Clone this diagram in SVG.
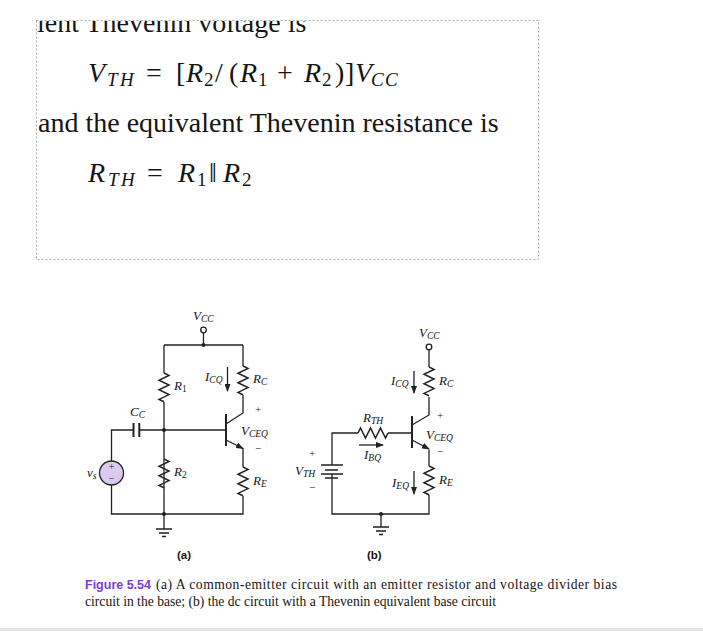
<svg xmlns="http://www.w3.org/2000/svg" width="703" height="631" viewBox="0 0 703 631">
<style>
text{font-family:"Liberation Serif","Times New Roman",serif;fill:#151515}
.big{font-size:28px}
.i{font-style:italic}
.sub{font-size:19px}
.lab{font-size:13px;font-style:italic}
.ls{font-size:9.5px;font-style:italic}
.w{fill:none;stroke:#222;stroke-width:1.3}
.z{fill:none;stroke:#222;stroke-width:1.5;stroke-linejoin:miter}
.dot{fill:#222}
.frame{fill:none;stroke:#aaa;stroke-width:1;stroke-dasharray:2 2}
.sans{font-family:"Liberation Sans",Arial,sans-serif;font-size:11.5px;font-weight:bold}
.cap{font-size:13.6px}
</style>
<defs>
<clipPath id="topclip"><rect x="30" y="21" width="520" height="30"/></clipPath>
<marker id="arr" markerWidth="8" markerHeight="6" refX="7" refY="3" orient="auto" markerUnits="userSpaceOnUse"><path d="M0 0L8 3L0 6z" fill="#222"/></marker>
<path id="rv" class="z" d="M0 0L5 2.4L-5 7.2L5 12L-5 16.800L5 21.600L-5 26.400L0 28.800"/>
</defs>
<rect width="703" height="631" fill="#fff"/>
<g id="text-box">
<rect class="frame" x="36.500" y="20.500" width="502" height="239"/>
<text class="big" x="37" y="32" clip-path="url(#topclip)">lent Thevenin voltage is</text>
<text class="big" y="82"><tspan class="i" x="88">V</tspan><tspan class="i sub" x="107" y="86">T</tspan><tspan class="i sub" x="120" y="86">H</tspan><tspan x="146" y="82">=</tspan><tspan x="176">[</tspan><tspan class="i" x="186">R</tspan><tspan class="sub" x="204" y="86">2</tspan><tspan x="215" y="82">/</tspan><tspan x="229">(</tspan><tspan class="i" x="240">R</tspan><tspan class="sub" x="258" y="86">1</tspan><tspan x="277" y="82">+</tspan><tspan class="i" x="304">R</tspan><tspan class="sub" x="322" y="86">2</tspan><tspan x="335" y="82">)</tspan><tspan x="345">]</tspan><tspan class="i" x="355">V</tspan><tspan class="i sub" x="371" y="86">C</tspan><tspan class="i sub" x="385" y="86">C</tspan></text>
<text class="big" x="38" y="132">and the equivalent Thevenin resistance is</text>
<text class="big" y="182"><tspan class="i" x="88">R</tspan><tspan class="i sub" x="108" y="186">T</tspan><tspan class="i sub" x="121" y="186">H</tspan><tspan x="147" y="182">=</tspan><tspan class="i" x="178">R</tspan><tspan class="sub" x="197" y="186">1</tspan><tspan x="209" y="182">‖</tspan><tspan class="i" x="223">R</tspan><tspan class="sub" x="242" y="186">2</tspan></text>
</g>
<g id="connectors">
<path class="w" d="M203.500 333V345M164 345H243M164 345V373M164 402V514M243 345V366M243 395V413L226 424M226 430H139.500M133.500 430H111.500V461M111.500 485V514H243V496M243 467V448M164 514V529"/>
<path class="w" d="M226 440L243 448.500" marker-end="url(#arr)"/>
<path class="w" d="M429 350V367M429 397V415L412 425M412 433H388M358 433H332V465M332 474V514H429V495M429 466V450M381 514V527"/>
<path class="w" d="M412 440L429 449" marker-end="url(#arr)"/>
<path class="w" d="M227.500 367V391" marker-end="url(#arr)"/>
<path class="w" d="M414 371V393" marker-end="url(#arr)"/>
<path class="w" d="M414 471V494" marker-end="url(#arr)"/>
<path class="w" d="M359 445H383" marker-end="url(#arr)"/>
</g>
<g id="vcc-a"><circle class="w" cx="203.500" cy="330" r="2.800" fill="#fff"/><circle class="dot" cx="203.500" cy="345" r="2"/><text class="lab" x="193" y="320">V<tspan class="ls" dy="2">CC</tspan></text></g>
<g id="r1"><use href="#rv" x="164" y="373"/><text class="lab" x="174" y="390">R<tspan font-size="9.500" font-style="normal" dy="2">1</tspan></text></g>
<g id="rc-a"><use href="#rv" x="243" y="366"/><text class="lab" x="253" y="383">R<tspan class="ls" dy="2">C</tspan></text></g>
<g id="icq-a"><text class="lab" x="205" y="381">I<tspan class="ls" dy="2">CQ</tspan></text></g>
<g id="cc"><path d="M133.500 423V437M139.300 423V437" fill="none" stroke="#222" stroke-width="2"/><text class="lab" x="130" y="416">C<tspan class="ls" dy="2">C</tspan></text></g>
<g id="node-base"><circle class="dot" cx="164" cy="430" r="2"/></g>
<g id="q-a"><path d="M226 414V446" fill="none" stroke="#222" stroke-width="2"/><text x="255" y="413" font-size="11">+</text><text class="lab" x="241" y="435">V<tspan class="ls" dy="2">CEQ</tspan></text><text x="255" y="452" font-size="11">−</text></g>
<g id="r2"><use href="#rv" x="164" y="459"/><text class="lab" x="174" y="476">R<tspan font-size="9.500" font-style="normal" dy="2">2</tspan></text></g>
<g id="re-a"><use href="#rv" x="243" y="467"/><text class="lab" x="253" y="485">R<tspan class="ls" dy="2">E</tspan></text></g>
<g id="vs"><circle cx="111.500" cy="473" r="12" fill="#dcc9ef" stroke="#222" stroke-width="1.300"/><text x="111.500" y="470" font-size="10" text-anchor="middle">+</text><text x="111.500" y="482" font-size="10" text-anchor="middle">−</text><text class="lab" x="87" y="477">v<tspan class="ls" dy="2">s</tspan></text></g>
<g id="gnd-a"><circle class="dot" cx="164" cy="514" r="2"/><path class="w" d="M156 529H172M159 533H169M162 536.500H166"/></g>
<g id="vcc-b"><circle class="w" cx="429" cy="347" r="2.800" fill="#fff"/><text class="lab" x="419" y="337">V<tspan class="ls" dy="2">CC</tspan></text></g>
<g id="rc-b"><use href="#rv" x="429" y="367"/><text class="lab" x="439" y="385">R<tspan class="ls" dy="2">C</tspan></text></g>
<g id="icq-b"><text class="lab" x="391" y="385">I<tspan class="ls" dy="2">CQ</tspan></text></g>
<g id="rth"><path class="z" d="M358 433L360.500 428L365.500 438L370.500 428L375.500 438L380.500 428L385.500 438L388 433"/><text class="lab" x="363" y="422">R<tspan class="ls" dy="2">TH</tspan></text><text class="lab" x="364" y="459">I<tspan class="ls" dy="2">BQ</tspan></text></g>
<g id="q-b"><path d="M412 416V448" fill="none" stroke="#222" stroke-width="2"/><text x="437" y="419" font-size="11">+</text><text class="lab" x="426" y="439">V<tspan class="ls" dy="2">CEQ</tspan></text><text x="437" y="455" font-size="11">−</text></g>
<g id="vth"><path d="M321 465H343M325 470H338M321 474H343M325 478H338" fill="none" stroke="#222" stroke-width="1.500"/><text x="309" y="457" font-size="11">+</text><text class="lab" x="295" y="475">V<tspan class="ls" dy="2">TH</tspan></text><text x="309" y="491" font-size="11">−</text></g>
<g id="re-b"><use href="#rv" x="429" y="466"/><text class="lab" x="439" y="484">R<tspan class="ls" dy="2">E</tspan></text></g>
<g id="ieq"><text class="lab" x="392" y="487">I<tspan class="ls" dy="2">EQ</tspan></text></g>
<g id="gnd-b"><circle class="dot" cx="381" cy="514" r="2"/><path class="w" d="M373 527H389M376 531H386M379 534.500H383"/></g>
<g id="caption">
<text class="sans" x="177" y="559">(a)</text>
<text class="sans" x="367" y="559">(b)</text>
<text x="85" y="589" class="cap"><tspan font-size="12.500" font-weight="bold" style="fill:#7a3bd6;font-family:'Liberation Sans'">Figure 5.54</tspan></text>
<text x="156" y="589" class="cap" textLength="461">(a) A common-emitter circuit with an emitter resistor and voltage divider bias</text>
<text x="85" y="606" class="cap" textLength="411">circuit in the base; (b) the dc circuit with a Thevenin equivalent base circuit</text>
<rect x="0" y="628" width="703" height="3" fill="#e4e4e4"/>
</g>
</svg>
